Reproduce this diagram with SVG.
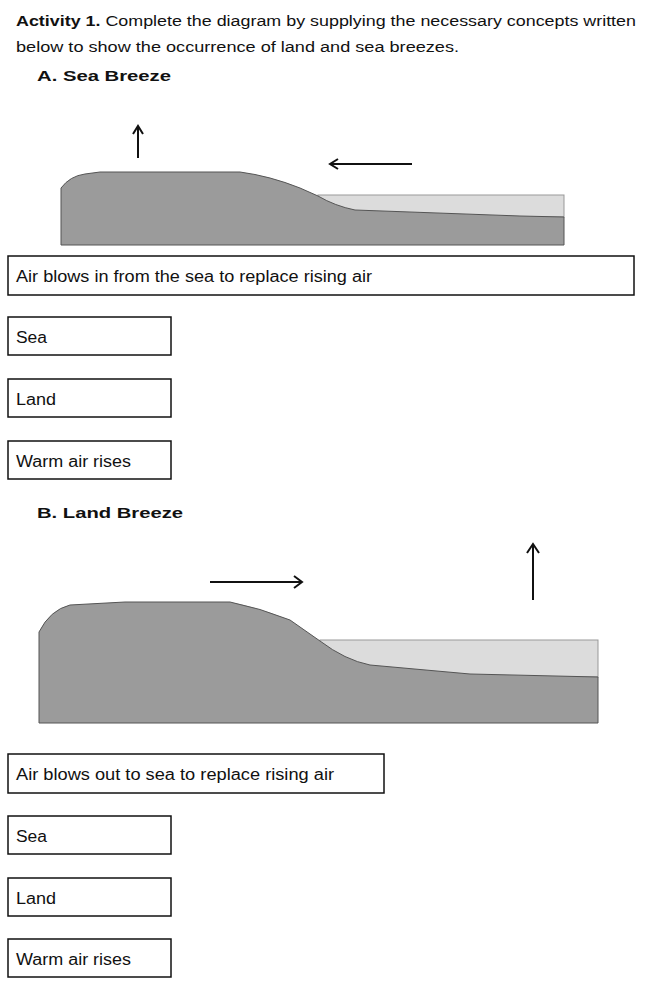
<svg xmlns="http://www.w3.org/2000/svg" width="652" height="984" viewBox="0 0 652 984">
<style>
text{font-family:"Liberation Sans",Arial,sans-serif;font-size:14px;fill:#111}
.t{font-size:16px}
.b{font-weight:bold}
.box{fill:#fff;stroke:#111;stroke-width:1.5}
.land{fill:#9b9b9b;stroke:#555;stroke-width:1}
.sea{fill:#dcdcdc;stroke:#999;stroke-width:1}
.ar{stroke:#111;stroke-width:2;fill:none}
</style>
<rect width="652" height="984" fill="#fff"/>
<text x="16" y="26" textLength="620" lengthAdjust="spacingAndGlyphs"><tspan class="b">Activity 1.</tspan>  Complete the diagram by supplying the necessary concepts written</text>
<text x="16" y="52" textLength="443" lengthAdjust="spacingAndGlyphs">below to show the occurrence of land and sea breezes.</text>
<text x="37" y="81" class="b" textLength="134" lengthAdjust="spacingAndGlyphs">A.  Sea Breeze</text>
<text x="37" y="518" class="b" textLength="146" lengthAdjust="spacingAndGlyphs">B.  Land Breeze</text>
<g id="sceneA">
<rect class="sea" x="318" y="195" width="246" height="22"/>
<path class="land" d="M61,188 Q70,176 85,174 L100,172 L240,172 Q270,176 300,188 L318,196 Q335,206 355,210 L520,216 L564,217 L564,245 L61,245 Z"/>
</g>
<g id="sceneB">
<rect class="sea" x="320" y="640" width="278" height="37"/>
<path class="land" d="M39,632 Q50,610 70,605 L125,602 L230,602 Q260,608 290,620 L320,641 Q345,660 370,665 L470,674 L598,677 L598,723 L39,723 Z"/>
</g>
<g id="connectors">
<path class="ar" d="M138,158 V126 M133,134 L138,126 L143,134"/>
<path class="ar" d="M412,164 H330 M338,159 L330,164 L338,169"/>
<path class="ar" d="M210,582 H302 M294,576 L302,582 L294,588"/>
<path class="ar" d="M533,600 V544 M527,553 L533,544 L539,553"/>
</g>
<g id="a1"><rect class="box" x="8" y="256" width="626" height="39"/><text class="t" x="16" y="282" textLength="356" lengthAdjust="spacingAndGlyphs">Air blows in from the sea to replace rising air</text></g>
<g id="a2"><rect class="box" x="8" y="317" width="163" height="38"/><text class="t" x="16" y="343" textLength="31" lengthAdjust="spacingAndGlyphs">Sea</text></g>
<g id="a3"><rect class="box" x="8" y="379" width="163" height="38"/><text class="t" x="16" y="405" textLength="40" lengthAdjust="spacingAndGlyphs">Land</text></g>
<g id="a4"><rect class="box" x="8" y="441" width="163" height="38"/><text class="t" x="16" y="467" textLength="115" lengthAdjust="spacingAndGlyphs">Warm air rises</text></g>
<g id="b1"><rect class="box" x="8" y="754" width="376" height="39"/><text class="t" x="16" y="780" textLength="318" lengthAdjust="spacingAndGlyphs">Air blows out to sea to replace rising air</text></g>
<g id="b2"><rect class="box" x="8" y="816" width="163" height="38"/><text class="t" x="16" y="842" textLength="31" lengthAdjust="spacingAndGlyphs">Sea</text></g>
<g id="b3"><rect class="box" x="8" y="878" width="163" height="38"/><text class="t" x="16" y="904" textLength="40" lengthAdjust="spacingAndGlyphs">Land</text></g>
<g id="b4"><rect class="box" x="8" y="939" width="163" height="38"/><text class="t" x="16" y="965" textLength="115" lengthAdjust="spacingAndGlyphs">Warm air rises</text></g>
</svg>
